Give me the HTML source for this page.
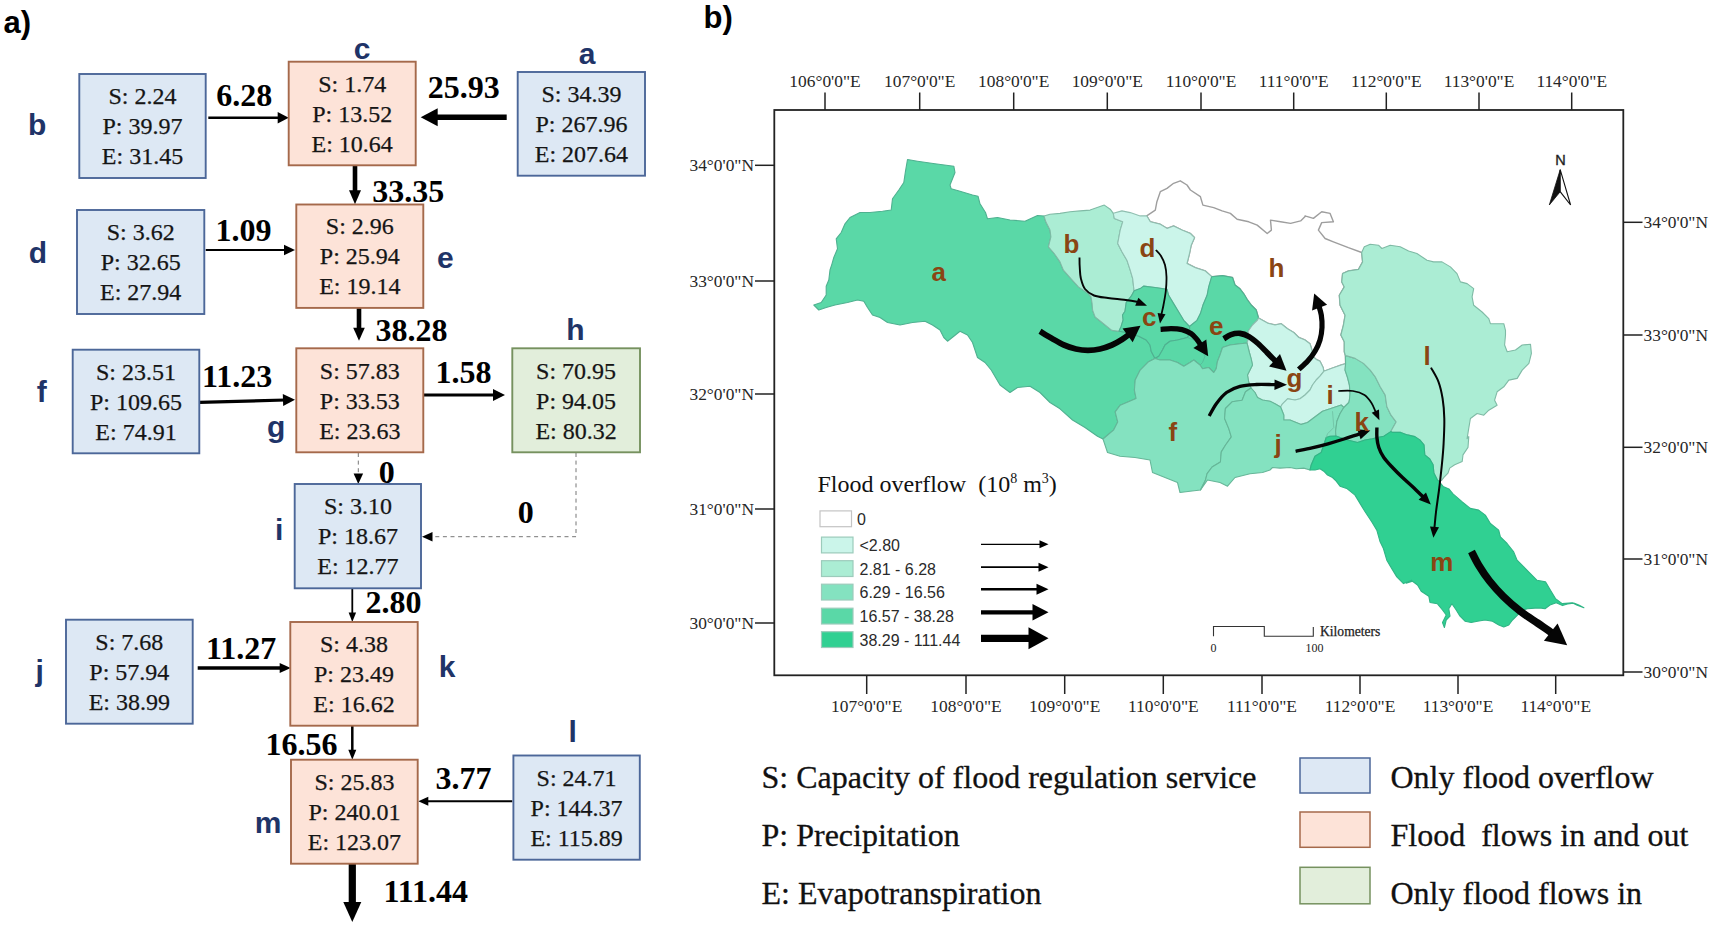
<!DOCTYPE html>
<html lang="en"><head><meta charset="utf-8"><title>Flood overflow between sub-basins</title>
<style>
html,body{margin:0;padding:0;background:#fff;}
body{width:1725px;height:928px;overflow:hidden;}
svg{display:block;}
.ser{font-family:"Liberation Serif",serif;}
.san{font-family:"Liberation Sans",sans-serif;}
.bx{font-family:"Liberation Serif",serif;font-size:24px;fill:#151515;stroke:#151515;stroke-width:0.25px;text-anchor:middle;}
.fl{font-family:"Liberation Serif",serif;font-size:32px;font-weight:bold;fill:#000;}
.lb{font-family:"Liberation Sans",sans-serif;font-size:30px;font-weight:bold;fill:#1f3468;}
.ml{font-family:"Liberation Sans",sans-serif;font-size:26px;font-weight:bold;fill:#8a4513;}
.deg{font-family:"Liberation Serif",serif;font-size:17.4px;fill:#262626;}
.lg{font-family:"Liberation Sans",sans-serif;font-size:16px;fill:#2a2a2a;}
.big{font-family:"Liberation Serif",serif;font-size:32px;fill:#111;stroke:#111;stroke-width:0.3px;}
</style></head><body>
<svg width="1725" height="928" viewBox="0 0 1725 928">
<rect x="0" y="0" width="1725" height="928" fill="#ffffff"/>
<g id="diagram">
<line x1="208.3" y1="117.7" x2="279.9" y2="117.7" stroke="#000" stroke-width="2.60"/><polygon points="288.7,117.7 277.7,123.5 277.7,112.0" fill="#000"/>
<line x1="506.7" y1="117.3" x2="434.3" y2="117.3" stroke="#000" stroke-width="5.60"/><polygon points="420.7,117.3 437.7,108.3 437.7,126.3" fill="#000"/>
<line x1="355.0" y1="165.7" x2="355.0" y2="193.1" stroke="#000" stroke-width="4.60"/><polygon points="355.0,204.3 349.0,190.3 361.0,190.3" fill="#000"/>
<line x1="205.7" y1="250.0" x2="286.2" y2="250.0" stroke="#000" stroke-width="1.80"/><polygon points="295.0,250.0 284.0,255.2 284.0,244.8" fill="#000"/>
<line x1="359.0" y1="307.9" x2="359.0" y2="330.4" stroke="#000" stroke-width="4.60"/><polygon points="359.0,340.8 353.2,327.8 364.8,327.8" fill="#000"/>
<line x1="199.3" y1="402.3" x2="285.4" y2="400.0" stroke="#000" stroke-width="3.20"/><polygon points="295.0,399.7 283.2,406.0 282.8,394.0" fill="#000"/>
<line x1="423.3" y1="395.0" x2="495.4" y2="395.0" stroke="#000" stroke-width="3.20"/><polygon points="505.0,395.0 493.0,401.0 493.0,389.0" fill="#000"/>
<line x1="358.3" y1="453.0" x2="358.3" y2="475.6" stroke="#777" stroke-width="1.00" stroke-dasharray="4 3.6"/><polygon points="358.3,484.0 353.6,473.5 363.1,473.5" fill="#000"/>
<path d="M576 453 L576 536.7 L431 536.7" fill="none" stroke="#777" stroke-width="1" stroke-dasharray="4 3.6"/>
<polygon points="422.0,536.7 432.5,532.0 432.5,541.5" fill="#000"/>
<line x1="352.3" y1="588.3" x2="352.3" y2="614.4" stroke="#000" stroke-width="1.80"/><polygon points="352.3,622.0 348.6,612.5 356.1,612.5" fill="#000"/>
<line x1="197.7" y1="668.0" x2="281.9" y2="668.0" stroke="#000" stroke-width="3.40"/><polygon points="290.7,668.0 279.7,673.0 279.7,663.0" fill="#000"/>
<line x1="352.3" y1="725.7" x2="352.3" y2="751.7" stroke="#000" stroke-width="2.50"/><polygon points="352.3,759.7 348.3,749.7 356.3,749.7" fill="#000"/>
<line x1="512.3" y1="801.3" x2="426.3" y2="801.3" stroke="#000" stroke-width="2.00"/><polygon points="418.3,801.3 428.3,796.8 428.3,805.8" fill="#000"/>
<line x1="352.3" y1="863.7" x2="352.3" y2="906.0" stroke="#000" stroke-width="7.20"/><polygon points="352.3,922.0 343.3,902.0 361.3,902.0" fill="#000"/>
<rect x="79.3" y="74.0" width="126.4" height="104.0" fill="#dde8f4" stroke="#4c6799" stroke-width="1.9"/>
<text class="bx" x="142.5" y="104.2">S: 2.24</text>
<text class="bx" x="142.5" y="134.2">P: 39.97</text>
<text class="bx" x="142.5" y="164.2">E: 31.45</text>
<rect x="288.7" y="61.7" width="127.0" height="103.6" fill="#fde3d8" stroke="#a5694b" stroke-width="1.9"/>
<text class="bx" x="352.2" y="91.7">S: 1.74</text>
<text class="bx" x="352.2" y="121.7">P: 13.52</text>
<text class="bx" x="352.2" y="151.7">E: 10.64</text>
<rect x="517.7" y="72.0" width="127.3" height="103.7" fill="#dde8f4" stroke="#4c6799" stroke-width="1.9"/>
<text class="bx" x="581.4" y="102.0">S: 34.39</text>
<text class="bx" x="581.4" y="132.1">P: 267.96</text>
<text class="bx" x="581.4" y="162.1">E: 207.64</text>
<rect x="77.0" y="210.0" width="127.3" height="104.0" fill="#dde8f4" stroke="#4c6799" stroke-width="1.9"/>
<text class="bx" x="140.7" y="240.2">S: 3.62</text>
<text class="bx" x="140.7" y="270.2">P: 32.65</text>
<text class="bx" x="140.7" y="300.2">E: 27.94</text>
<rect x="296.3" y="204.5" width="127.0" height="103.4" fill="#fde3d8" stroke="#a5694b" stroke-width="1.9"/>
<text class="bx" x="359.8" y="234.4">S: 2.96</text>
<text class="bx" x="359.8" y="264.4">P: 25.94</text>
<text class="bx" x="359.8" y="294.4">E: 19.14</text>
<rect x="72.7" y="349.7" width="126.6" height="103.6" fill="#dde8f4" stroke="#4c6799" stroke-width="1.9"/>
<text class="bx" x="136.0" y="379.7">S: 23.51</text>
<text class="bx" x="136.0" y="409.7">P: 109.65</text>
<text class="bx" x="136.0" y="439.7">E: 74.91</text>
<rect x="296.3" y="348.3" width="127.0" height="104.0" fill="#fde3d8" stroke="#a5694b" stroke-width="1.9"/>
<text class="bx" x="359.8" y="378.5">S: 57.83</text>
<text class="bx" x="359.8" y="408.5">P: 33.53</text>
<text class="bx" x="359.8" y="438.5">E: 23.63</text>
<rect x="512.3" y="348.3" width="127.7" height="104.0" fill="#e2eedb" stroke="#76915f" stroke-width="1.9"/>
<text class="bx" x="576.1" y="378.5">S: 70.95</text>
<text class="bx" x="576.1" y="408.5">P: 94.05</text>
<text class="bx" x="576.1" y="438.5">E: 80.32</text>
<rect x="294.7" y="484.0" width="126.3" height="104.3" fill="#dde8f4" stroke="#4c6799" stroke-width="1.9"/>
<text class="bx" x="357.9" y="514.4">S: 3.10</text>
<text class="bx" x="357.9" y="544.4">P: 18.67</text>
<text class="bx" x="357.9" y="574.4">E: 12.77</text>
<rect x="66.0" y="619.7" width="126.7" height="104.0" fill="#dde8f4" stroke="#4c6799" stroke-width="1.9"/>
<text class="bx" x="129.3" y="649.9">S: 7.68</text>
<text class="bx" x="129.3" y="679.9">P: 57.94</text>
<text class="bx" x="129.3" y="709.9">E: 38.99</text>
<rect x="290.3" y="622.0" width="127.4" height="103.7" fill="#fde3d8" stroke="#a5694b" stroke-width="1.9"/>
<text class="bx" x="354.0" y="652.1">S: 4.38</text>
<text class="bx" x="354.0" y="682.1">P: 23.49</text>
<text class="bx" x="354.0" y="712.1">E: 16.62</text>
<rect x="513.4" y="755.5" width="126.4" height="104.2" fill="#dde8f4" stroke="#4c6799" stroke-width="1.9"/>
<text class="bx" x="576.6" y="785.8">S: 24.71</text>
<text class="bx" x="576.6" y="815.8">P: 144.37</text>
<text class="bx" x="576.6" y="845.8">E: 115.89</text>
<rect x="291.0" y="759.7" width="126.7" height="104.0" fill="#fde3d8" stroke="#a5694b" stroke-width="1.9"/>
<text class="bx" x="354.4" y="789.9">S: 25.83</text>
<text class="bx" x="354.4" y="819.9">P: 240.01</text>
<text class="bx" x="354.4" y="849.9">E: 123.07</text>
<text class="fl" x="216.2" y="106.0">6.28</text>
<text class="fl" x="427.8" y="98.3">25.93</text>
<text class="fl" x="372.2" y="202.0">33.35</text>
<text class="fl" x="215.5" y="241.0">1.09</text>
<text class="fl" x="375.5" y="340.7">38.28</text>
<text class="fl" x="202.0" y="387.3">11.23</text>
<text class="fl" x="435.5" y="382.7">1.58</text>
<text class="fl" x="378.8" y="483.3">0</text>
<text class="fl" x="517.8" y="523.3">0</text>
<text class="fl" x="365.5" y="613.3">2.80</text>
<text class="fl" x="206.0" y="659.0">11.27</text>
<text class="fl" x="265.5" y="755.0">16.56</text>
<text class="fl" x="435.5" y="789.0">3.77</text>
<text class="fl" x="383.5" y="902.3">111.44</text>
<text class="lb" x="28.0" y="135.0">b</text>
<text class="lb" x="353.8" y="59.3">c</text>
<text class="lb" x="578.8" y="64.0">a</text>
<text class="lb" x="28.8" y="263.3">d</text>
<text class="lb" x="437.0" y="268.3">e</text>
<text class="lb" x="36.8" y="402.3">f</text>
<text class="lb" x="267.0" y="436.5">g</text>
<text class="lb" x="566.3" y="339.7">h</text>
<text class="lb" x="275.0" y="540.0">i</text>
<text class="lb" x="35.5" y="680.5">j</text>
<text class="lb" x="438.8" y="677.3">k</text>
<text class="lb" x="568.6" y="742.3">l</text>
<text class="lb" x="254.8" y="833.0">m</text>
<text class="san" x="3.4" y="33.2" font-size="31" font-weight="bold" fill="#000">a)</text>
</g>
<text class="san" x="703.5" y="27.5" font-size="31" font-weight="bold" fill="#000">b)</text>
<g id="map">
<path d="M1146.7 215.8 L1155.3 210.1 L1156.9 201.7 L1160.3 191.7 L1167.0 188.4 L1173.6 183.3 L1180.3 180.8 L1187.0 185.0 L1190.4 190.0 L1200.4 196.7 L1202.9 205.1 L1213.7 207.6 L1222.1 210.9 L1230.4 213.4 L1237.1 219.3 L1248.8 221.8 L1257.2 225.1 L1267.2 233.5 L1271.4 230.1 L1270.5 220.1 L1280.6 221.8 L1290.6 223.4 L1300.6 220.9 L1305.6 215.9 L1305.0 215.9 L1313.4 218.4 L1321.7 211.7 L1330.1 213.4 L1333.4 221.8 L1321.7 222.6 L1318.4 230.1 L1325.1 238.5 L1333.4 241.8 L1348.4 247.7 L1361.7 252.5 L1362.6 261.9 L1358.5 269.4 L1348.4 271.0 L1342.6 273.6 L1341.8 281.9 L1344.3 286.9 L1339.3 295.3 L1340.1 305.3 L1345.1 315.3 L1343.4 325.3 L1340.9 335.0 L1344.3 341.7 L1344.3 351.7 L1345.4 355.5 L1345.6 363.8 L1341.2 365.0 L1332.5 368.1 L1323.8 371.3 L1323.1 367.5 L1320.0 361.2 L1316.2 359.4 L1312.5 356.2 L1311.9 350.0 L1310.0 343.8 L1305.0 340.0 L1298.8 337.5 L1293.8 332.5 L1287.5 328.8 L1281.2 323.8 L1275.0 325.0 L1267.5 323.1 L1258.5 318.0 L1256.2 310.0 L1251.2 305.0 L1247.5 300.0 L1243.8 293.8 L1240.0 288.8 L1235.0 285.0 L1232.5 277.5 L1222.5 275.6 L1211.7 276.7 L1205.4 271.0 L1195.4 267.7 L1187.0 263.5 L1189.5 253.5 L1191.2 245.2 L1194.5 237.6 L1190.4 233.5 L1182.0 230.1 L1173.6 225.9 L1167.0 228.4 L1160.3 224.3 L1150.3 221.8Z" fill="#ffffff" stroke="#9e9e9e" stroke-width="1.4" stroke-linejoin="round"/>
<path d="M1044.0 216.0 L1037.5 215.5 L1025.0 221.2 L1010.0 220.0 L997.5 217.5 L987.5 218.8 L985.5 212.5 L980.0 203.8 L978.0 196.2 L972.5 195.0 L960.0 191.2 L951.2 188.8 L950.0 185.0 L955.0 172.5 L953.8 166.2 L935.0 163.8 L917.5 161.2 L907.5 159.5 L905.5 171.2 L903.8 182.5 L898.8 190.0 L892.5 198.8 L891.2 210.0 L882.5 211.2 L870.0 212.5 L860.0 212.5 L850.0 217.5 L845.0 223.8 L841.2 232.5 L836.2 238.8 L837.5 248.8 L833.8 257.5 L832.0 263.8 L830.0 270.0 L828.8 280.0 L826.2 286.2 L826.2 295.0 L821.2 302.5 L813.8 305.0 L818.8 310.0 L826.2 307.5 L835.0 305.0 L847.5 302.5 L857.5 300.0 L863.8 301.2 L867.5 307.5 L872.5 315.0 L880.0 317.5 L887.5 322.5 L900.0 325.0 L912.5 322.5 L925.0 321.2 L932.5 325.0 L940.0 330.0 L943.8 337.5 L947.5 341.2 L953.8 336.2 L960.0 331.2 L967.5 335.0 L972.5 342.5 L975.0 350.0 L977.5 357.5 L985.0 362.5 L991.2 370.0 L1000.0 385.0 L1010.0 392.5 L1017.5 387.5 L1030.0 386.2 L1040.0 392.5 L1050.0 402.5 L1060.0 408.8 L1072.5 420.0 L1085.0 427.5 L1097.5 436.2 L1103.0 439.0 L1113.5 430.2 L1117.7 421.9 L1115.2 411.8 L1120.2 405.2 L1128.5 401.8 L1136.1 398.5 L1134.4 390.1 L1135.2 380.1 L1140.2 370.1 L1148.6 361.7 L1155.0 358.5 L1151.2 351.2 L1150.0 345.0 L1146.2 340.0 L1138.8 336.2 L1127.5 332.5 L1119.0 331.3 L1111.8 330.4 L1103.5 323.7 L1095.1 317.0 L1092.6 310.3 L1092.1 303.6 L1091.0 296.9 L1088.4 293.6 L1078.4 286.9 L1070.9 278.6 L1063.4 270.2 L1060.0 261.9 L1054.2 253.5 L1048.4 246.8 L1050.9 236.8 L1050.0 230.1 L1045.8 221.8Z" fill="#5ad8a7" stroke="#4fb190" stroke-width="1.1" stroke-linejoin="round"/>
<path d="M1044.0 216.0 L1050.0 214.2 L1060.0 213.4 L1070.1 211.7 L1080.1 210.9 L1090.1 210.1 L1104.3 205.1 L1110.2 209.2 L1113.3 213.3 L1114.3 218.4 L1122.7 221.8 L1120.2 230.1 L1117.7 243.5 L1121.9 251.8 L1126.9 260.2 L1130.2 270.2 L1132.7 278.6 L1133.6 286.9 L1134.2 290.8 L1131.2 296.2 L1126.2 302.5 L1125.0 311.2 L1122.5 315.0 L1123.1 320.0 L1121.2 326.2 L1119.0 331.3 L1111.8 330.4 L1103.5 323.7 L1095.1 317.0 L1092.6 310.3 L1092.1 303.6 L1091.0 296.9 L1088.4 293.6 L1078.4 286.9 L1070.9 278.6 L1063.4 270.2 L1060.0 261.9 L1054.2 253.5 L1048.4 246.8 L1050.9 236.8 L1050.0 230.1 L1045.8 221.8Z" fill="#abedd4" stroke="#7fbaa5" stroke-width="1.1" stroke-linejoin="round"/>
<path d="M1113.3 213.3 L1121.9 210.9 L1130.2 212.6 L1140.2 215.9 L1146.7 215.8 L1150.3 221.8 L1160.3 224.3 L1167.0 228.4 L1173.6 225.9 L1182.0 230.1 L1190.4 233.5 L1194.5 237.6 L1191.2 245.2 L1189.5 253.5 L1187.0 263.5 L1195.4 267.7 L1205.4 271.0 L1211.7 276.7 L1208.7 286.9 L1207.1 295.3 L1202.9 305.3 L1200.4 313.6 L1197.0 320.3 L1189.5 326.5 L1183.7 320.3 L1178.7 312.0 L1173.6 303.6 L1168.6 295.3 L1167.0 289.4 L1156.9 287.8 L1143.6 286.1 L1140.2 288.6 L1134.2 290.8 L1133.6 286.9 L1132.7 278.6 L1130.2 270.2 L1126.9 260.2 L1121.9 251.8 L1117.7 243.5 L1120.2 230.1 L1122.7 221.8 L1114.3 218.4Z" fill="#cbf5ea" stroke="#8fbfb0" stroke-width="1.1" stroke-linejoin="round"/>
<path d="M1134.2 290.8 L1140.2 288.6 L1143.6 286.1 L1156.9 287.8 L1167.0 289.4 L1168.6 295.3 L1173.6 303.6 L1178.7 312.0 L1183.7 320.3 L1189.5 326.5 L1190.0 332.5 L1187.5 337.5 L1177.5 340.0 L1170.0 341.2 L1165.0 345.0 L1162.5 350.0 L1158.8 356.2 L1155.0 358.5 L1151.2 351.2 L1150.0 345.0 L1146.2 340.0 L1138.8 336.2 L1127.5 332.5 L1119.0 331.3 L1121.2 326.2 L1123.1 320.0 L1122.5 315.0 L1125.0 311.2 L1126.2 302.5 L1131.2 296.2Z" fill="#5ad8a7" stroke="#4fb190" stroke-width="1.1" stroke-linejoin="round"/>
<path d="M1211.7 276.7 L1222.5 275.6 L1232.5 277.5 L1235.0 285.0 L1240.0 288.8 L1243.8 293.8 L1247.5 300.0 L1251.2 305.0 L1256.2 310.0 L1258.5 318.0 L1257.5 320.0 L1252.5 325.0 L1248.1 331.2 L1248.8 337.5 L1247.0 343.0 L1240.0 343.8 L1230.0 345.0 L1222.5 347.5 L1220.0 355.0 L1217.5 361.2 L1216.2 368.8 L1213.8 372.5 L1208.8 367.5 L1202.5 368.8 L1200.0 365.0 L1193.8 360.0 L1190.0 362.5 L1183.8 366.2 L1177.5 362.5 L1170.0 360.0 L1160.0 360.0 L1155.0 358.5 L1158.8 356.2 L1162.5 350.0 L1165.0 345.0 L1170.0 341.2 L1177.5 340.0 L1187.5 337.5 L1190.0 332.5 L1189.5 326.5 L1197.0 320.3 L1200.4 313.6 L1202.9 305.3 L1207.1 295.3 L1208.7 286.9Z" fill="#5ad8a7" stroke="#4fb190" stroke-width="1.1" stroke-linejoin="round"/>
<path d="M1258.5 318.0 L1267.5 323.1 L1275.0 325.0 L1281.2 323.8 L1287.5 328.8 L1293.8 332.5 L1298.8 337.5 L1305.0 340.0 L1310.0 343.8 L1311.9 350.0 L1312.5 356.2 L1316.2 359.4 L1320.0 361.2 L1323.1 367.5 L1323.8 371.3 L1320.0 376.2 L1316.2 380.0 L1312.5 385.0 L1310.0 390.0 L1305.0 395.0 L1300.0 398.8 L1295.0 400.0 L1287.5 398.8 L1282.5 403.8 L1280.6 407.0 L1275.0 403.8 L1270.0 401.2 L1262.5 400.0 L1257.5 397.5 L1255.0 392.5 L1251.0 388.0 L1248.8 382.5 L1247.5 375.0 L1250.0 370.0 L1252.5 365.0 L1251.2 358.8 L1249.4 352.5 L1247.0 343.0 L1248.8 337.5 L1248.1 331.2 L1252.5 325.0 L1257.5 320.0Z" fill="#cbf5ea" stroke="#8fbfb0" stroke-width="1.1" stroke-linejoin="round"/>
<path d="M1323.8 371.3 L1332.5 368.1 L1341.2 365.0 L1345.6 363.8 L1345.0 370.0 L1347.5 377.5 L1349.4 385.0 L1350.0 393.8 L1349.4 400.0 L1348.8 402.5 L1343.8 407.5 L1341.2 405.0 L1337.5 406.2 L1330.0 408.8 L1322.5 411.2 L1317.5 415.0 L1312.5 418.8 L1307.5 422.5 L1301.2 424.4 L1296.2 422.5 L1290.0 420.0 L1283.8 420.0 L1283.8 415.0 L1280.6 407.0 L1282.5 403.8 L1287.5 398.8 L1295.0 400.0 L1300.0 398.8 L1305.0 395.0 L1310.0 390.0 L1312.5 385.0 L1316.2 380.0 L1320.0 376.2Z" fill="#cbf5ea" stroke="#8fbfb0" stroke-width="1.1" stroke-linejoin="round"/>
<path d="M1155.0 358.5 L1148.6 361.7 L1140.2 370.1 L1135.2 380.1 L1134.4 390.1 L1136.1 398.5 L1128.5 401.8 L1120.2 405.2 L1115.2 411.8 L1117.7 421.9 L1113.5 430.2 L1103.0 439.0 L1107.5 452.5 L1120.0 456.2 L1135.0 457.5 L1150.0 460.0 L1152.5 472.5 L1165.0 477.5 L1177.5 482.5 L1180.0 492.5 L1190.0 491.2 L1200.5 490.0 L1205.4 480.3 L1207.1 473.7 L1212.1 467.0 L1220.4 462.0 L1221.3 451.9 L1225.4 445.3 L1231.3 436.9 L1228.8 428.6 L1224.6 418.5 L1225.4 408.5 L1232.1 401.8 L1242.1 400.2 L1245.5 391.8 L1251.0 388.0 L1248.8 382.5 L1247.5 375.0 L1250.0 370.0 L1252.5 365.0 L1251.2 358.8 L1249.4 352.5 L1247.0 343.0 L1240.0 343.8 L1230.0 345.0 L1222.5 347.5 L1220.0 355.0 L1217.5 361.2 L1216.2 368.8 L1213.8 372.5 L1208.8 367.5 L1202.5 368.8 L1200.0 365.0 L1193.8 360.0 L1190.0 362.5 L1183.8 366.2 L1177.5 362.5 L1170.0 360.0 L1160.0 360.0Z" fill="#84e2c0" stroke="#66b698" stroke-width="1.1" stroke-linejoin="round"/>
<path d="M1251.0 388.0 L1255.0 392.5 L1257.5 397.5 L1262.5 400.0 L1270.0 401.2 L1275.0 403.8 L1280.6 407.0 L1283.8 415.0 L1283.8 420.0 L1290.0 420.0 L1296.2 422.5 L1301.2 424.4 L1307.5 422.5 L1312.5 418.8 L1317.5 415.0 L1322.5 411.2 L1330.0 408.8 L1337.5 406.2 L1341.2 405.0 L1343.8 407.5 L1340.0 413.8 L1336.9 421.2 L1335.6 431.2 L1335.9 436.0 L1330.0 436.2 L1326.2 437.5 L1323.8 445.0 L1321.2 452.5 L1315.0 456.2 L1311.2 465.0 L1310.0 470.0 L1303.8 468.1 L1296.2 468.8 L1290.0 467.5 L1280.0 468.1 L1272.5 467.5 L1270.0 470.0 L1262.5 472.5 L1250.0 473.8 L1235.0 477.5 L1227.5 486.2 L1220.0 482.5 L1207.5 480.0 L1200.5 490.0 L1205.4 480.3 L1207.1 473.7 L1212.1 467.0 L1220.4 462.0 L1221.3 451.9 L1225.4 445.3 L1231.3 436.9 L1228.8 428.6 L1224.6 418.5 L1225.4 408.5 L1232.1 401.8 L1242.1 400.2 L1245.5 391.8Z" fill="#84e2c0" stroke="#66b698" stroke-width="1.1" stroke-linejoin="round"/>
<path d="M1345.4 355.5 L1346.8 355.9 L1355.1 358.4 L1363.5 363.4 L1370.2 370.1 L1375.2 376.8 L1380.2 386.8 L1385.2 395.1 L1386.9 406.8 L1391.0 415.2 L1396.1 421.9 L1390.8 431.6 L1383.8 436.2 L1377.5 437.5 L1372.5 438.8 L1365.0 440.0 L1357.5 442.5 L1347.5 440.0 L1340.0 437.5 L1335.9 436.0 L1335.6 431.2 L1336.9 421.2 L1340.0 413.8 L1343.8 407.5 L1348.8 402.5 L1349.4 400.0 L1350.0 393.8 L1349.4 385.0 L1347.5 377.5 L1345.0 370.0 L1345.6 363.8Z" fill="#84e2c0" stroke="#66b698" stroke-width="1.1" stroke-linejoin="round"/>
<path d="M1361.7 252.5 L1364.3 246.8 L1370.2 244.3 L1378.5 245.2 L1381.9 248.5 L1390.2 245.2 L1400.2 246.8 L1408.6 251.0 L1416.9 253.5 L1427.0 260.2 L1433.6 261.9 L1442.0 261.9 L1450.4 266.9 L1457.0 273.6 L1460.4 281.9 L1467.1 283.6 L1473.7 288.6 L1472.1 296.9 L1473.7 305.3 L1482.1 312.0 L1488.8 318.7 L1490.4 323.7 L1503.8 323.7 L1505.5 330.4 L1505.5 335.0 L1504.6 345.0 L1507.2 351.7 L1515.5 350.0 L1522.2 345.0 L1530.5 344.2 L1531.4 353.4 L1528.9 363.4 L1522.2 370.1 L1517.2 378.4 L1508.8 380.1 L1503.8 386.8 L1497.1 391.8 L1494.6 400.2 L1497.1 405.2 L1488.8 410.2 L1483.8 415.2 L1477.1 413.5 L1470.4 418.5 L1468.7 428.6 L1467.1 438.6 L1468.8 436.6 L1468.0 447.4 L1463.0 454.9 L1462.2 461.5 L1454.7 464.8 L1449.7 468.1 L1448.0 473.1 L1443.9 477.3 L1441.4 480.6 L1439.0 481.4 L1437.3 479.8 L1433.9 473.1 L1433.1 464.8 L1429.8 459.0 L1424.8 454.9 L1424.0 444.9 L1419.8 439.9 L1414.9 436.6 L1407.4 434.9 L1400.7 432.4 L1392.4 432.4 L1390.8 431.6 L1396.1 421.9 L1391.0 415.2 L1386.9 406.8 L1385.2 395.1 L1380.2 386.8 L1375.2 376.8 L1370.2 370.1 L1363.5 363.4 L1355.1 358.4 L1346.8 355.9 L1345.4 355.5 L1344.3 351.7 L1344.3 341.7 L1340.9 335.0 L1343.4 325.3 L1345.1 315.3 L1340.1 305.3 L1339.3 295.3 L1344.3 286.9 L1341.8 281.9 L1342.6 273.6 L1348.4 271.0 L1358.5 269.4 L1362.6 261.9Z" fill="#abedd4" stroke="#7fbaa5" stroke-width="1.1" stroke-linejoin="round"/>
<path d="M1390.8 431.6 L1392.4 432.4 L1400.7 432.4 L1407.4 434.9 L1414.9 436.6 L1419.8 439.9 L1424.0 444.9 L1424.8 454.9 L1429.8 459.0 L1433.1 464.8 L1433.9 473.1 L1437.3 479.8 L1439.0 481.4 L1443.1 486.4 L1448.9 488.9 L1453.0 493.9 L1462.0 501.7 L1470.3 508.4 L1478.7 510.1 L1485.3 515.1 L1490.4 523.5 L1498.7 530.1 L1500.4 536.8 L1507.1 543.5 L1513.7 551.9 L1517.1 560.2 L1523.8 566.9 L1530.4 573.6 L1537.1 580.3 L1545.5 581.9 L1550.5 590.3 L1555.5 598.6 L1562.2 603.6 L1572.2 602.8 L1577.2 605.3 L1583.9 607.8 L1578.8 605.0 L1573.8 603.1 L1567.5 604.0 L1562.5 605.6 L1556.2 602.8 L1550.0 605.0 L1545.0 608.8 L1541.2 608.1 L1535.0 608.1 L1527.5 608.8 L1522.5 610.0 L1517.5 615.0 L1512.5 620.0 L1508.8 625.0 L1503.8 626.9 L1498.8 625.0 L1492.5 621.2 L1485.0 620.0 L1477.5 621.2 L1471.2 622.5 L1465.0 621.2 L1460.0 616.2 L1456.2 610.0 L1451.9 603.8 L1448.8 608.8 L1450.0 616.2 L1446.2 620.0 L1444.4 627.5 L1442.5 622.5 L1446.2 615.0 L1442.5 610.0 L1437.5 603.8 L1430.0 602.5 L1428.8 596.2 L1421.2 591.2 L1417.5 585.0 L1412.5 581.2 L1406.2 583.1 L1411.8 580.3 L1403.5 583.6 L1396.8 576.9 L1391.8 568.6 L1386.8 560.2 L1383.4 548.5 L1380.1 541.8 L1376.8 530.1 L1371.7 521.8 L1365.1 511.8 L1360.0 503.4 L1355.0 495.1 L1346.7 488.4 L1340.0 486.2 L1336.2 481.2 L1332.5 477.5 L1327.5 475.0 L1323.8 471.2 L1320.0 468.8 L1315.0 470.0 L1310.0 470.0 L1311.2 465.0 L1315.0 456.2 L1321.2 452.5 L1323.8 445.0 L1326.2 437.5 L1330.0 436.2 L1335.9 436.0 L1340.0 437.5 L1347.5 440.0 L1357.5 442.5 L1365.0 440.0 L1372.5 438.8 L1377.5 437.5 L1383.8 436.2Z" fill="#30d092" stroke="#30b585" stroke-width="1.1" stroke-linejoin="round"/>
<path d="M1187.5 337.5 L1193.8 340.0 L1198.8 345.0 L1202.5 351.2 L1205.0 356.2 L1202.5 362.5 L1200.0 365.0" fill="none" stroke="#55b898" stroke-width="0.8"/>
<path d="M1332.5 411.2 L1333.8 427.5 L1327.5 433.8 L1326.2 437.5" fill="none" stroke="#6fbfa2" stroke-width="0.8"/>
<rect x="774.3" y="110" width="849" height="565.3" fill="none" stroke="#222" stroke-width="1.8"/>
<line x1="825.0" y1="92.5" x2="825.0" y2="110" stroke="#222" stroke-width="1.5"/>
<text class="deg" x="825.0" y="87.3" text-anchor="middle">106°0'0"E</text>
<line x1="919.7" y1="92.5" x2="919.7" y2="110" stroke="#222" stroke-width="1.5"/>
<text class="deg" x="919.7" y="87.3" text-anchor="middle">107°0'0"E</text>
<line x1="1013.7" y1="92.5" x2="1013.7" y2="110" stroke="#222" stroke-width="1.5"/>
<text class="deg" x="1013.7" y="87.3" text-anchor="middle">108°0'0"E</text>
<line x1="1107.3" y1="92.5" x2="1107.3" y2="110" stroke="#222" stroke-width="1.5"/>
<text class="deg" x="1107.3" y="87.3" text-anchor="middle">109°0'0"E</text>
<line x1="1201.0" y1="92.5" x2="1201.0" y2="110" stroke="#222" stroke-width="1.5"/>
<text class="deg" x="1201.0" y="87.3" text-anchor="middle">110°0'0"E</text>
<line x1="1293.7" y1="92.5" x2="1293.7" y2="110" stroke="#222" stroke-width="1.5"/>
<text class="deg" x="1293.7" y="87.3" text-anchor="middle">111°0'0"E</text>
<line x1="1386.3" y1="92.5" x2="1386.3" y2="110" stroke="#222" stroke-width="1.5"/>
<text class="deg" x="1386.3" y="87.3" text-anchor="middle">112°0'0"E</text>
<line x1="1479.0" y1="92.5" x2="1479.0" y2="110" stroke="#222" stroke-width="1.5"/>
<text class="deg" x="1479.0" y="87.3" text-anchor="middle">113°0'0"E</text>
<line x1="1571.7" y1="92.5" x2="1571.7" y2="110" stroke="#222" stroke-width="1.5"/>
<text class="deg" x="1571.7" y="87.3" text-anchor="middle">114°0'0"E</text>
<line x1="866.7" y1="675.3" x2="866.7" y2="694" stroke="#222" stroke-width="1.5"/>
<text class="deg" x="866.7" y="712.3" text-anchor="middle">107°0'0"E</text>
<line x1="966.0" y1="675.3" x2="966.0" y2="694" stroke="#222" stroke-width="1.5"/>
<text class="deg" x="966.0" y="712.3" text-anchor="middle">108°0'0"E</text>
<line x1="1064.7" y1="675.3" x2="1064.7" y2="694" stroke="#222" stroke-width="1.5"/>
<text class="deg" x="1064.7" y="712.3" text-anchor="middle">109°0'0"E</text>
<line x1="1163.3" y1="675.3" x2="1163.3" y2="694" stroke="#222" stroke-width="1.5"/>
<text class="deg" x="1163.3" y="712.3" text-anchor="middle">110°0'0"E</text>
<line x1="1262.0" y1="675.3" x2="1262.0" y2="694" stroke="#222" stroke-width="1.5"/>
<text class="deg" x="1262.0" y="712.3" text-anchor="middle">111°0'0"E</text>
<line x1="1360.0" y1="675.3" x2="1360.0" y2="694" stroke="#222" stroke-width="1.5"/>
<text class="deg" x="1360.0" y="712.3" text-anchor="middle">112°0'0"E</text>
<line x1="1458.0" y1="675.3" x2="1458.0" y2="694" stroke="#222" stroke-width="1.5"/>
<text class="deg" x="1458.0" y="712.3" text-anchor="middle">113°0'0"E</text>
<line x1="1555.7" y1="675.3" x2="1555.7" y2="694" stroke="#222" stroke-width="1.5"/>
<text class="deg" x="1555.7" y="712.3" text-anchor="middle">114°0'0"E</text>
<line x1="755" y1="165.3" x2="774.3" y2="165.3" stroke="#222" stroke-width="1.5"/>
<text class="deg" x="754" y="171.3" text-anchor="end">34°0'0"N</text>
<line x1="755" y1="281.0" x2="774.3" y2="281.0" stroke="#222" stroke-width="1.5"/>
<text class="deg" x="754" y="287.0" text-anchor="end">33°0'0"N</text>
<line x1="755" y1="394.0" x2="774.3" y2="394.0" stroke="#222" stroke-width="1.5"/>
<text class="deg" x="754" y="400.0" text-anchor="end">32°0'0"N</text>
<line x1="755" y1="509.0" x2="774.3" y2="509.0" stroke="#222" stroke-width="1.5"/>
<text class="deg" x="754" y="515.0" text-anchor="end">31°0'0"N</text>
<line x1="755" y1="623.0" x2="774.3" y2="623.0" stroke="#222" stroke-width="1.5"/>
<text class="deg" x="754" y="629.0" text-anchor="end">30°0'0"N</text>
<line x1="1623.3" y1="222.3" x2="1642.5" y2="222.3" stroke="#222" stroke-width="1.5"/>
<text class="deg" x="1643.5" y="228.3">34°0'0"N</text>
<line x1="1623.3" y1="335.0" x2="1642.5" y2="335.0" stroke="#222" stroke-width="1.5"/>
<text class="deg" x="1643.5" y="341.0">33°0'0"N</text>
<line x1="1623.3" y1="447.3" x2="1642.5" y2="447.3" stroke="#222" stroke-width="1.5"/>
<text class="deg" x="1643.5" y="453.3">32°0'0"N</text>
<line x1="1623.3" y1="559.0" x2="1642.5" y2="559.0" stroke="#222" stroke-width="1.5"/>
<text class="deg" x="1643.5" y="565.0">31°0'0"N</text>
<line x1="1623.3" y1="672.0" x2="1642.5" y2="672.0" stroke="#222" stroke-width="1.5"/>
<text class="deg" x="1643.5" y="678.0">30°0'0"N</text>
<text class="san" x="1560.5" y="165.4" font-size="14.5" fill="#222" stroke="#222" stroke-width="0.35" text-anchor="middle">N</text>
<path d="M1560.2 169.7 L1549.3 205 L1560.2 191.7 Z" fill="#111" stroke="#111" stroke-width="0.8" stroke-linejoin="miter"/>
<path d="M1560.2 169.7 L1570.6 205 L1560.2 191.7 Z" fill="#fff" stroke="#111" stroke-width="1.1" stroke-linejoin="miter"/>
<text class="ser" x="817.5" y="492" font-size="24" fill="#111">Flood overflow&#160; (10<tspan font-size="14" dy="-9">8</tspan><tspan dy="9"> m</tspan><tspan font-size="14" dy="-9">3</tspan><tspan dy="9">)</tspan></text>
<rect x="820.0" y="510.9" width="31.5" height="15.8" fill="#ffffff" stroke="#c4c4c4" stroke-width="1.2"/>
<text class="lg" x="857.0" y="524.7">0</text>
<rect x="821.5" y="537.1" width="31.5" height="15.8" fill="#cbf5ea" stroke="#9ccbbb" stroke-width="1.2"/>
<text class="lg" x="859.5" y="550.9">&lt;2.80</text>
<rect x="821.5" y="560.7" width="31.5" height="15.8" fill="#abedd4" stroke="#9ccbbb" stroke-width="1.2"/>
<text class="lg" x="859.5" y="574.5">2.81 - 6.28</text>
<rect x="821.5" y="584.2" width="31.5" height="15.8" fill="#84e2c0" stroke="#9ccbbb" stroke-width="1.2"/>
<text class="lg" x="859.5" y="598.0">6.29 - 16.56</text>
<rect x="821.5" y="608.2" width="31.5" height="15.8" fill="#5ad8a7" stroke="#9ccbbb" stroke-width="1.2"/>
<text class="lg" x="859.5" y="622.0">16.57 - 38.28</text>
<rect x="821.5" y="631.7" width="31.5" height="15.8" fill="#30d092" stroke="#9ccbbb" stroke-width="1.2"/>
<text class="lg" x="859.5" y="645.5">38.29 - 111.44</text>
<line x1="981.0" y1="544.3" x2="1041.3" y2="544.3" stroke="#000" stroke-width="1.20"/><polygon points="1048.5,544.3 1039.5,548.3 1039.5,540.3" fill="#000"/>
<line x1="981.0" y1="567.2" x2="1040.5" y2="567.2" stroke="#000" stroke-width="1.70"/><polygon points="1048.5,567.2 1038.5,571.7 1038.5,562.7" fill="#000"/>
<line x1="981.0" y1="589.3" x2="1038.9" y2="589.3" stroke="#000" stroke-width="2.50"/><polygon points="1048.5,589.3 1036.5,594.8 1036.5,583.8" fill="#000"/>
<line x1="981.0" y1="612.3" x2="1035.7" y2="612.3" stroke="#000" stroke-width="4.20"/><polygon points="1048.5,612.3 1032.5,620.5 1032.5,604.0" fill="#000"/>
<line x1="981.0" y1="638.3" x2="1032.5" y2="638.3" stroke="#000" stroke-width="7.20"/><polygon points="1048.5,638.3 1028.5,649.3 1028.5,627.3" fill="#000"/>
<path d="M1213.5 636.3 L1213.5 626.5 L1264.3 626.5 L1264.3 636.3 L1313.3 636.3 L1313.3 627" fill="none" stroke="#333" stroke-width="1.1"/>
<text class="ser" x="1320" y="636" font-size="13.6" fill="#222" stroke="#222" stroke-width="0.25">Kilometers</text>
<text class="ser" x="1213.5" y="652" font-size="12" fill="#222" text-anchor="middle">0</text>
<text class="ser" x="1314.5" y="652" font-size="12" fill="#222" text-anchor="middle">100</text>
<path d="M1040.0 331.3 C1042.0 332.5 1048.0 336.2 1052.0 338.5 C1056.0 340.8 1060.0 343.2 1064.0 345.0 C1068.0 346.8 1072.0 348.1 1076.0 349.0 C1080.0 349.9 1084.0 350.3 1088.0 350.3 C1092.0 350.3 1096.0 349.9 1100.0 349.0 C1104.0 348.1 1108.3 346.6 1112.0 345.0 C1115.7 343.4 1119.0 341.4 1122.0 339.5 C1125.0 337.6 1128.8 334.4 1130.2 333.4" fill="none" stroke="#050505" stroke-width="5.80" stroke-linecap="butt"/><polygon points="1140.5,325.8 1132.7,342.2 1122.6,328.5" fill="#050505"/>
<path d="M1079.5 257.5 C1079.5 259.2 1079.5 264.4 1079.8 268.0 C1080.0 271.6 1080.1 275.5 1081.0 279.0 C1081.9 282.5 1082.8 286.2 1085.0 289.0 C1087.2 291.8 1090.2 294.0 1094.0 295.5 C1097.8 297.0 1103.0 297.3 1108.0 298.0 C1113.0 298.7 1119.2 299.2 1124.0 299.8 C1128.8 300.4 1134.5 301.3 1137.0 301.8 C1139.5 302.3 1138.5 302.4 1138.8 302.5" fill="none" stroke="#050505" stroke-width="1.90" stroke-linecap="butt"/><polygon points="1147.0,305.8 1135.2,305.7 1138.4,297.8" fill="#050505"/>
<path d="M1155.8 250.0 C1156.7 251.0 1159.5 253.5 1161.0 256.0 C1162.5 258.5 1164.1 261.5 1165.0 265.0 C1165.9 268.5 1166.4 272.7 1166.5 277.0 C1166.6 281.3 1166.3 286.3 1165.8 291.0 C1165.3 295.7 1164.2 301.2 1163.5 305.0 C1162.8 308.8 1161.9 312.2 1161.5 314.0 C1161.1 315.8 1161.3 315.3 1161.2 315.6" fill="none" stroke="#050505" stroke-width="1.80" stroke-linecap="butt"/><polygon points="1160.0,323.5 1157.6,313.0 1165.5,314.2" fill="#050505"/>
<path d="M1160.6 329.4 C1162.3 329.3 1167.4 328.6 1171.0 328.6 C1174.6 328.6 1178.7 328.8 1182.0 329.6 C1185.3 330.4 1188.5 331.9 1191.0 333.5 C1193.5 335.1 1195.3 337.5 1197.0 339.5 C1198.7 341.5 1200.2 344.4 1201.0 345.5 C1201.8 346.6 1201.5 346.2 1201.5 346.3" fill="none" stroke="#050505" stroke-width="5.20" stroke-linecap="butt"/><polygon points="1208.2,356.3 1193.4,348.1 1206.3,339.5" fill="#050505"/>
<path d="M1223.8 338.8 C1225.0 338.1 1228.3 335.5 1231.0 334.6 C1233.7 333.7 1237.0 333.1 1240.0 333.4 C1243.0 333.7 1246.0 334.9 1249.0 336.6 C1252.0 338.3 1255.0 340.9 1258.0 343.5 C1261.0 346.1 1264.2 349.6 1267.0 352.5 C1269.8 355.4 1273.3 359.0 1275.0 360.6 C1276.7 362.2 1276.6 362.0 1276.9 362.3" fill="none" stroke="#050505" stroke-width="5.60" stroke-linecap="butt"/><polygon points="1286.5,370.8 1269.1,366.4 1280.0,354.0" fill="#050505"/>
<path d="M1298.8 369.4 C1300.2 368.0 1304.8 364.3 1307.5 361.3 C1310.2 358.3 1312.9 354.9 1315.0 351.3 C1317.1 347.8 1318.8 344.0 1320.0 340.0 C1321.2 336.0 1321.8 331.7 1322.0 327.5 C1322.2 323.3 1321.9 318.8 1321.3 315.0 C1320.7 311.2 1319.0 306.7 1318.6 305.0" fill="none" stroke="#050505" stroke-width="5.20" stroke-linecap="butt"/><polygon points="1314.2,293.6 1327.1,304.7 1312.1,310.5" fill="#050505"/>
<path d="M1209.2 416.0 C1210.4 413.9 1213.6 407.4 1216.5 403.5 C1219.4 399.6 1222.6 395.4 1226.5 392.5 C1230.4 389.6 1235.0 387.6 1240.0 386.3 C1245.0 385.0 1251.0 384.8 1256.5 384.5 C1262.0 384.2 1269.9 384.6 1273.3 384.6 C1276.7 384.6 1276.4 384.6 1277.0 384.7" fill="none" stroke="#050505" stroke-width="3.30" stroke-linecap="butt"/><polygon points="1287.0,384.8 1274.4,389.9 1274.6,379.4" fill="#050505"/>
<path d="M1338.3 391.0 C1340.8 391.0 1348.6 390.3 1353.0 391.0 C1357.4 391.7 1361.4 393.0 1364.5 395.0 C1367.6 397.0 1369.7 400.2 1371.5 403.0 C1373.3 405.8 1374.7 409.8 1375.5 411.5 C1376.3 413.2 1376.0 412.7 1376.2 413.0" fill="none" stroke="#050505" stroke-width="1.70" stroke-linecap="butt"/><polygon points="1379.4,420.3 1371.7,412.8 1379.0,409.5" fill="#050505"/>
<path d="M1295.6 451.3 C1298.3 450.7 1306.6 449.1 1312.0 447.8 C1317.4 446.6 1322.7 445.3 1328.0 443.8 C1333.3 442.3 1339.2 440.5 1344.0 439.0 C1348.8 437.5 1354.1 435.7 1357.0 434.8 C1359.9 433.9 1360.5 433.6 1361.2 433.4" fill="none" stroke="#050505" stroke-width="3.40" stroke-linecap="butt"/><polygon points="1370.3,430.4 1360.6,439.2 1357.3,429.2" fill="#050505"/>
<path d="M1376.9 427.5 C1376.9 429.2 1376.6 434.2 1376.9 437.5 C1377.2 440.8 1377.7 444.2 1378.8 447.5 C1379.9 450.8 1381.5 454.2 1383.8 457.5 C1386.1 460.8 1389.4 464.2 1392.5 467.5 C1395.6 470.8 1398.9 474.1 1402.5 477.5 C1406.1 480.9 1410.8 484.9 1414.0 488.0 C1417.2 491.1 1420.3 494.2 1422.0 495.8 C1423.7 497.4 1423.7 497.5 1424.0 497.8" fill="none" stroke="#050505" stroke-width="3.40" stroke-linecap="butt"/><polygon points="1430.8,504.6 1418.6,499.8 1426.0,492.4" fill="#050505"/>
<path d="M1431.0 367.6 C1432.2 370.0 1436.6 376.7 1438.5 381.8 C1440.4 386.9 1441.6 392.4 1442.6 398.5 C1443.6 404.6 1444.1 411.0 1444.3 418.5 C1444.5 426.0 1444.0 435.8 1443.6 443.6 C1443.2 451.4 1442.6 457.6 1441.8 465.3 C1441.0 473.0 1440.0 482.2 1439.0 490.0 C1438.0 497.8 1436.7 506.0 1436.0 512.0 C1435.3 518.0 1434.9 523.2 1434.6 526.0 C1434.3 528.8 1434.3 528.5 1434.3 529.0" fill="none" stroke="#050505" stroke-width="2.00" stroke-linecap="butt"/><polygon points="1433.4,537.8 1430.0,526.4 1439.0,527.3" fill="#050505"/>
<path d="M1471.5 551.5 C1472.7 553.8 1475.7 560.3 1478.7 565.2 C1481.7 570.1 1485.4 575.8 1489.5 581.0 C1493.6 586.2 1498.4 591.6 1503.5 596.6 C1508.6 601.6 1514.3 606.6 1520.0 611.0 C1525.7 615.4 1532.7 619.7 1537.5 623.0 C1542.3 626.3 1546.2 628.8 1549.0 630.8 C1551.8 632.8 1553.2 634.1 1554.0 634.8" fill="none" stroke="#050505" stroke-width="7.60" stroke-linecap="butt"/><polygon points="1567.2,645.2 1543.9,640.8 1557.6,623.5" fill="#050505"/>
<text class="ml" x="931.5" y="281.3">a</text>
<text class="ml" x="1063.6" y="252.5">b</text>
<text class="ml" x="1139.4" y="257.0">d</text>
<text class="ml" x="1142.0" y="326.3">c</text>
<text class="ml" x="1209.0" y="335.0">e</text>
<text class="ml" x="1268.6" y="276.7">h</text>
<text class="ml" x="1286.5" y="386.6">g</text>
<text class="ml" x="1326.5" y="403.8">i</text>
<text class="ml" x="1168.6" y="441.0">f</text>
<text class="ml" x="1274.5" y="452.5">j</text>
<text class="ml" x="1354.6" y="430.6">k</text>
<text class="ml" x="1423.4" y="365.0">l</text>
<text class="ml" x="1430.2" y="570.8">m</text>
</g>
<g id="key">
<text class="big" x="761.5" y="788">S: Capacity of flood regulation service</text>
<text class="big" x="761.5" y="845.7">P: Precipitation</text>
<text class="big" x="761.5" y="904">E: Evapotranspiration</text>
<rect x="1300" y="758" width="70" height="35" fill="#dde8f4" stroke="#4c6799" stroke-width="1.5"/>
<rect x="1300" y="812" width="70" height="35.3" fill="#fde3d8" stroke="#a5694b" stroke-width="1.5"/>
<rect x="1300" y="867.3" width="70" height="36.5" fill="#e2eedb" stroke="#76915f" stroke-width="1.5"/>
<text class="big" x="1390.5" y="788">Only flood overflow</text>
<text class="big" x="1390.5" y="845.7">Flood&#160; flows in and out</text>
<text class="big" x="1390.5" y="904">Only flood flows in</text>
</g>
</svg></body></html>
